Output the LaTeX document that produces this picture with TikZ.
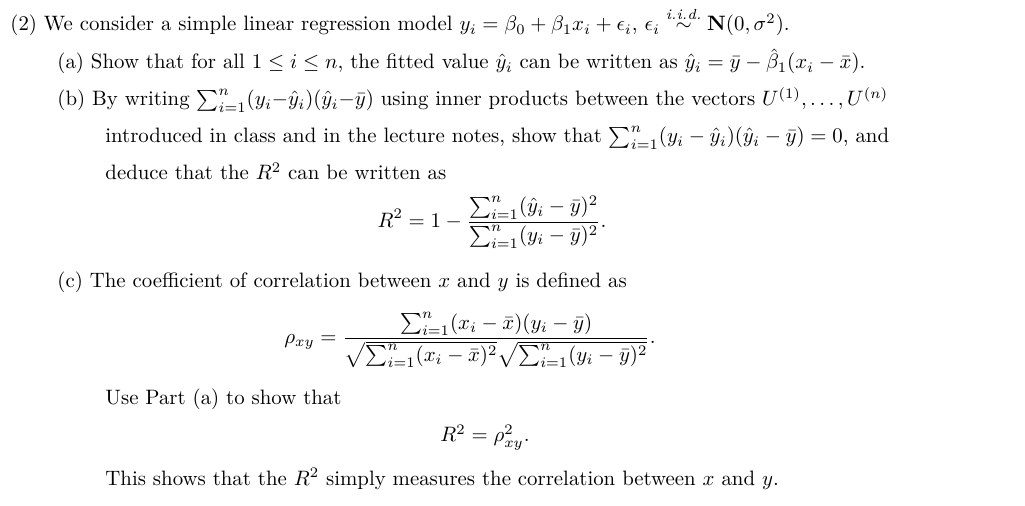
\documentclass[tikz,border=0pt]{standalone}
\usepackage{amsmath,amssymb}
\begin{document}
\begin{tikzpicture}[x=0.3pt,y=-0.3pt,every node/.style={scale=0.625},txt/.style={anchor=base west,inner sep=0pt},eq/.style={anchor=center,inner sep=0pt}]
\useasboundingbox (0,0) rectangle (1025,506);
\node[txt] (l1) at (10,31) {(2) We consider a simple linear regression model $y_i=\beta_0+\beta_1x_i+\epsilon_i$, $\epsilon_i\overset{\textit{i.i.d.}}{\sim}\mathbf{N}(0,\sigma^2)$.};
\node[txt] (la) at (57,69) {(a) Show that for all $1\le i\le n$, the fitted value $\hat y_i$ can be written as $\hat y_i=\bar y-\hat\beta_1(x_i-\bar x)$.};
\node[txt] (lb) at (57,106) {(b) By writing $\sum_{i=1}^n(y_i{-}\hat y_i)(\hat y_i{-}\bar y)$ using inner products between the vectors $U^{(1)},\ldots,U^{(n)}$};
\node[txt] (lb2) at (105,143) {introduced in class and in the lecture notes, show that $\sum_{i=1}^n(y_i-\hat y_i)(\hat y_i-\bar y)=0$, and};
\node[txt] (lb3) at (105,180) {deduce that the $R^2$ can be written as};
\node[eq] (e1) at (492,222) {$\displaystyle R^2=1-\frac{\sum_{i=1}^n(\hat y_i-\bar y)^2}{\sum_{i=1}^n(y_i-\bar y)^2}.$};
\node[txt] (lc) at (57,288) {(c) The coefficient of correlation between $x$ and $y$ is defined as};
\node[eq] (e2) at (470,340) {$\displaystyle \rho_{xy}=\frac{\sum_{i=1}^n(x_i-\bar x)(y_i-\bar y)}{\sqrt{\sum_{i=1}^n(x_i-\bar x)^2}\sqrt{\sum_{i=1}^n(y_i-\bar y)^2}}.$};
\node[txt] (lc2) at (105,405) {Use Part (a) to show that};
\node[txt] (e3) at (440,442) {$R^2=\rho_{xy}^2.$};
\node[txt] (lc3) at (105,485) {This shows that the $R^2$ simply measures the correlation between $x$ and $y$.};
\end{tikzpicture}
\end{document}
